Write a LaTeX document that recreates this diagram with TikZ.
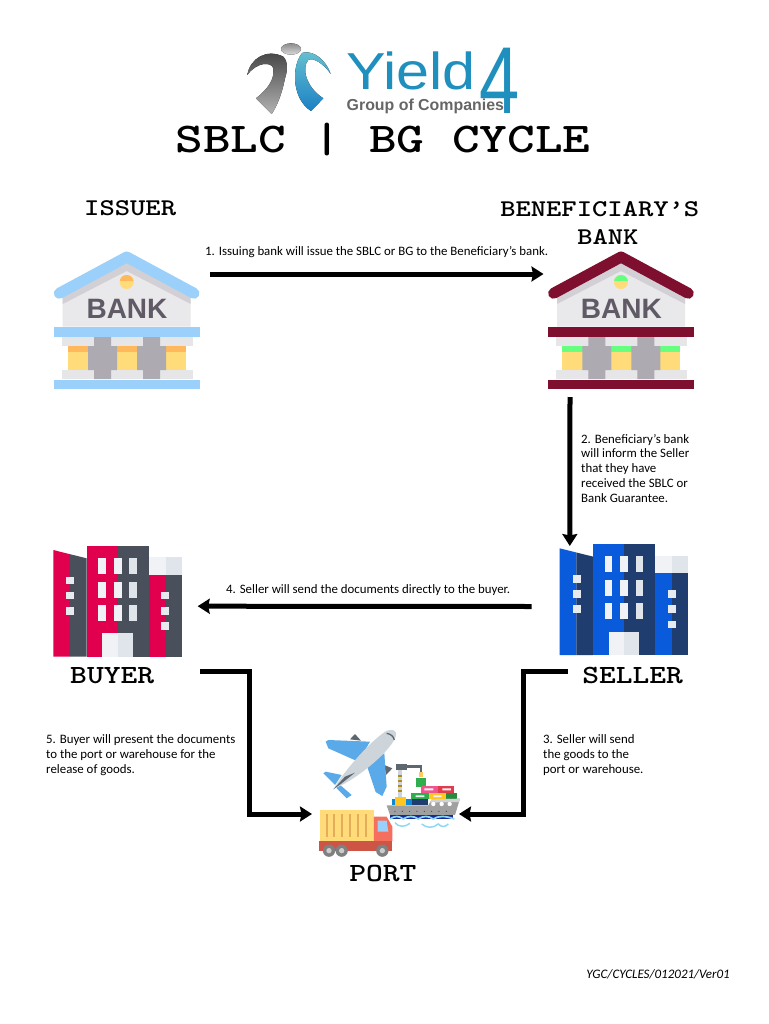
\documentclass[tikz,border=0pt]{standalone}
\usepackage{fontspec}
\setmainfont{Carlito}
\newfontfamily\arialf{Liberation Sans}
\usetikzlibrary{arrows.meta}
\definecolor{wallc}{HTML}{E9E8EB}
\definecolor{shadec}{HTML}{D2D0D5}
\definecolor{pillarc}{HTML}{ADAAB1}
\definecolor{shelfc}{HTML}{E6E6E9}
\definecolor{bankink}{HTML}{5F5A65}
\definecolor{yellowc}{HTML}{FFDB7A}
\definecolor{orangec}{HTML}{FFB85C}
\definecolor{lightblue}{HTML}{9BD0FB}
\definecolor{maroon}{HTML}{7F0F2E}
\definecolor{greenc}{HTML}{66FF80}
\definecolor{redb}{HTML}{E0004D}
\definecolor{darkb}{HTML}{4A4F5C}
\definecolor{blueb}{HTML}{0A5BDC}
\definecolor{navyb}{HTML}{1F3D6E}
\definecolor{wina}{HTML}{F1F2F5}
\definecolor{winb}{HTML}{E0E4EB}
\definecolor{logob}{HTML}{1F8FBE}
\definecolor{logog}{HTML}{666666}
\definecolor{planeb}{HTML}{5AA9E8}
\definecolor{planeg}{HTML}{CDD5DB}
\definecolor{planed}{HTML}{5E666E}
\definecolor{cabc}{HTML}{F46F5E}
\definecolor{chassisc}{HTML}{CE5445}
\definecolor{cgreen}{HTML}{2FAE4E}
\definecolor{cred}{HTML}{E23B4E}
\definecolor{cpink}{HTML}{F0548F}
\definecolor{cyel}{HTML}{FFC720}
\definecolor{hullc}{HTML}{A0A0A0}
\definecolor{wavec}{HTML}{8FD8F5}
\newcommand{\slabfont}[2]{\ttfamily\bfseries\fontsize{#1}{#2}\selectfont\addfontfeature{FakeBold=1}}
\tikzset{
  flow/.style={draw=black,line width=5pt,-{Stealth[length=12pt,width=15pt,inset=1.5pt]},line join=miter},
  icon/.style={inset sep,minimum width=#1},
  inset sep/.style={inner sep=0pt,outer sep=0pt},
  hd/.style={font=\slabfont{24}{28},xscale=1.215,inner sep=0pt,anchor=base west,align=left},
  hdb/.style={font=\slabfont{26.2}{30},xscale=1.22,inner sep=0pt,anchor=base west},
  note/.style={font=\fontsize{12.85}{14.7}\selectfont,inner sep=0pt,anchor=north west,align=left},
}
\newcommand{\bankicon}[5]{% dx, dy, roof, col top, bulb top
\begin{scope}[shift={(#1,#2)}]
 \fill[wallc] (62.7,326.7)--(62.7,298)--(126.7,264)--(190.7,298)--(190.7,326.7)--cycle;
 \fill[shadec] (62.7,296)--(126.7,262)--(190.7,296)--(190.7,304)--(126.7,271)--(62.7,304)--cycle;
 \draw[#3,line width=11pt,line cap=round,line join=round] (59.3,293.3)--(126.7,257)--(194,293.3);
 \begin{scope}
  \clip (126.7,282) circle (7);
  \fill[yellowc] (119,274) rectangle (135,290);
  \fill[#5] (119,274) rectangle (135,281);
 \end{scope}
 \node[text=bankink,font=\arialf\bfseries\fontsize{28}{30}\selectfont,inner sep=0pt,anchor=base] at (127,318) {BANK};
 \fill[shelfc] (62,337) rectangle (193,346);
 \fill[yellowc] (68,346) rectangle (186,370);
 \fill[#4] (68,346) rectangle (186,352);
 \fill[shelfc] (62,370) rectangle (193,379);
 \fill[pillarc] (88,346) rectangle (117,370) (94,337) rectangle (111,379);
 \fill[pillarc] (137,346) rectangle (166,370) (143,337) rectangle (160,379);
 \fill[#3] (53.5,326.7) rectangle (200,337);
 \fill[#3] (53.5,379.5) rectangle (200,389);
\end{scope}}
\newcommand{\officeicon}[4]{% dx, dy, light, dark
\begin{scope}[shift={(#1,#2)}]
 \fill[#3] (53.3,550)--(70,554.2)--(70,656.7)--(53.3,656.7)--cycle;
 \fill[#4] (70,554.2)--(86.7,558.3)--(86.7,656.7)--(70,656.7)--cycle;
 \fill[#3] (86.7,545.7) rectangle (117.7,656.7);
 \fill[#4] (117.7,545.7) rectangle (148.7,656.7);
 \fill[wina] (148.7,557.3) rectangle (165.7,575);
 \fill[winb] (165.7,557.3) rectangle (181.7,575);
 \fill[#3] (148.7,575) rectangle (165.7,656.7);
 \fill[#4] (165.7,575) rectangle (181.7,656.7);
 \fill[wina] (102.3,633.3) rectangle (117.7,656.7);
 \fill[winb] (117.7,633.3) rectangle (132.7,656.7);
 \foreach \wy in {558,581.7,605}{
  \fill[wina] (98.3,\wy) rectangle +(7.7,16);
  \fill[wina] (114,\wy) rectangle +(7.7,16);
  \fill[winb] (129.3,\wy) rectangle +(7.7,16);
 }
 \foreach \wy in {576.7,591.7,607}{\fill[winb!60!wina] (66.3,\wy) rectangle +(8,7.7);}
 \foreach \wy in {591.7,607,622.3}{\fill[winb!60!wina] (161.3,\wy) rectangle +(8,7.7);}
\end{scope}}
\begin{document}
\begin{tikzpicture}[x=1pt,y=-1pt]
\useasboundingbox (0,0) rectangle (768,1024);
\fill[white] (0,0) rectangle (768,1024);
% logo
\begin{scope}[shift={(230,30)},x=0.3333pt,y=-0.3333pt]
 \fill[top color=gray!90,bottom color=gray!30] (183,57) ellipse (30 and 17);
 \fill[top color=black!75,bottom color=black!30]
   (52,135) .. controls (60,85) and (110,55) .. (160,80) .. controls (175,95) and (172,125) .. (165,145)
   .. controls (155,195) and (140,230) .. (125,252) -- (78,205) .. controls (110,180) and (135,150) .. (130,115)
   .. controls (125,95) and (80,95) .. (52,135) -- cycle;
 \fill[top color=logob!60!cyan!60!white!90!black,bottom color=logob!90!blue]
   (218,68) .. controls (255,60) and (290,95) .. (302,132) .. controls (285,105) and (250,80) .. (235,90)
   .. controls (215,110) and (225,170) .. (280,205) -- (243,243) .. controls (215,225) and (195,190) .. (195,140)
   .. controls (195,110) and (205,80) .. (218,68) -- cycle;
\end{scope}
\node (yieldtxt) [text=logob,font=\arialf\fontsize{52}{56}\selectfont,xscale=1.14,inner sep=0pt,anchor=base west] at (346,90) {Yield};
\node (four) [text=logob,font=\arialf\fontsize{95}{96}\selectfont,xscale=0.76,inner sep=0pt,anchor=base west] at (479,113.5) {4};
\node (group) [text=logog,font=\arialf\bfseries\fontsize{15.9}{16}\selectfont,inner sep=0pt,anchor=base west] at (346.5,110.5) {Group of Companies};
% title
\node (title) [font=\slabfont{42.5}{46},xscale=1.24,inner sep=0pt,anchor=base] at (383,153) {SBLC | BG CYCLE};
\node (issuerh) [hd] at (84,216) {ISSUER};
\node (benefh) [hd] at (500,244) {BENEFICIARY’S\\\hspace*{63.4pt}BANK};
% icons
\bankicon{0}{0}{lightblue}{orangec}{orangec}
\bankicon{494.3}{0}{maroon}{greenc}{greenc}
\officeicon{0}{0}{redb}{darkb}
\officeicon{506.3}{-1.7}{blueb}{navyb}
\node (issuerbank) [icon=147pt,minimum height=138pt] at (126.7,320) {};
\node (benefbank) [icon=147pt,minimum height=138pt] at (621,320) {};
\node (buyericon) [icon=128.4pt,minimum height=111pt] at (117.5,601.2) {};
\node (sellericon) [icon=128.4pt,minimum height=111pt] at (623.8,599.5) {};
% port
\begin{scope}[shift={(305,720)},x=0.3333pt,y=-0.3333pt]
 % plane
 \fill[planed] (135,58)--(150,42)--(168,62)--cycle;
 \fill[planed] (238,135)--(262,145)--(243,165)--cycle;
 \fill[planeb,line join=round] (62,65)--(70,60)--(195,65)--(160,125)--(70,85)--cycle;
 \fill[planeb] (238,100)--(245,200)--(232,228)--(212,216)--(185,135)--cycle;
 \fill[planeb] (55,160)--(62,155)--(110,165)--(90,195)--cycle;
 \fill[planeb] (100,190)--(140,225)--(125,235)--(95,205)--cycle;
 \fill[planeg] (85,208) .. controls (120,150) and (190,70) .. (240,35) .. controls (260,25) and (278,28) .. (272,50)
   .. controls (260,85) and (190,150) .. (120,190) -- cycle;
 \fill[planed] (85,208)--(120,170)--(150,158)--(110,190)--cycle;
 \draw[planed,line width=1.3pt] (245,40) .. controls (258,42) and (266,50) .. (268,60);
 % ship
 \fill[planed] (272,133) rectangle (305,150);
 \fill[planed] (300,135) rectangle (352,143);
 \fill[planeg] (280,150) rectangle (292,235);
 \foreach \sy in {165,180,195,210}{\fill[cyel!70!black] (280,\sy) rectangle (292,\sy+7);}
 \fill[planed] (345,143) rectangle (350,155);
 \fill[yellowc!80!orange] (341,155) rectangle (355,172);
 \fill[cgreen] (333,175) rectangle (362,202);
 \fill[cpink] (347,197) rectangle (400,220);
 \fill[cred] (400,197) rectangle (448,220);
 \fill[wina] (358,205) rectangle (385,211) (412,205) rectangle (438,211);
 \fill[cgreen] (318,220) rectangle (372,238);
 \fill[cyel] (372,220) rectangle (422,238);
 \fill[cgreen!80!black] (422,220) rectangle (457,238);
 \fill[wina] (332,226) rectangle (358,231) (385,226) rectangle (410,231);
 \fill[navyb] (320,238) rectangle (370,255);
 \fill[cyan!70!blue] (262,238) rectangle (320,255);
 \fill[cyel] (270,232) rectangle (303,255);
 \fill[hullc] (245,256)--(370,256)--(380,238)--(465,236)--(450,285)--(255,285)--cycle;
 \fill[gray!35] (380,238)--(465,236)--(462,246)--(375,248)--cycle;
 \foreach \px in {385,410,434}{\fill[white] (\px,252) circle (6.5);}
 \foreach \px in {270,292,314,336,358,380,402,424}{\fill[darkb] (\px,274) circle (2);}
 \fill[navyb!70!blue] (255,285) rectangle (445,297);
 \draw[wavec,line width=1.7pt] (255,297) .. controls (270,287) and (280,287) .. (295,297) .. controls (310,287) and (325,287) .. (340,297) .. controls (355,287) and (370,287) .. (385,297) .. controls (400,287) and (420,287) .. (448,297);
 \draw[wavec,line width=1.5pt] (270,308) .. controls (280,322) and (300,322) .. (315,310);
 \draw[wavec,line width=1.5pt] (350,312) .. controls (365,325) and (385,325) .. (400,312) .. controls (410,322) and (420,322) .. (430,312);
 % truck
 \fill[yellowc] (45,270) rectangle (207,363);
 \foreach \tx in {65,88,112,135,160,183}{\fill[orangec!75!yellowc!90!black] (\tx-3,283) rectangle (\tx+3,350);}
 \fill[cabc] (207,290)--(245,290)--(262,320)--(262,363)--(207,363)--cycle;
 \fill[lightblue] (218,302)--(245,302)--(250,335)--(218,335)--cycle;
 \fill[chassisc] (42,363) rectangle (262,392);
 \foreach \wx in {72,110,232}{
  \fill[gray] (\wx,392) circle (18.5);
  \fill[gray!40] (\wx,392) circle (8);
 }
\end{scope}
\node (porticon) [icon=140pt,minimum height=130pt] at (390,793) {};
% labels
\node (buyerl) [hdb] at (70,683) {BUYER};
\node (sellerl) [hdb] at (582,683) {SELLER};
\node (portl) [hdb] at (349,881) {PORT};
\node (n1) [note] at (205,246) {1. Issuing bank will issue the SBLC or BG to the Beneficiary’s bank.};
\node (n2) [note] at (581,434) {2. Beneficiary’s bank\\will inform the Seller\\that they have\\received the SBLC or\\Bank Guarantee.};
\node (n3) [note] at (543,734.5) {3. Seller will send\\the goods to the\\port or warehouse.};
\node (n4) [note] at (226,584.5) {4. Seller will send the documents directly to the buyer.};
\node (n5) [note] at (46,734.5) {5. Buyer will present the documents\\to the port or warehouse for the\\release of goods.};
\node (foot) [font=\itshape\fontsize{13}{14}\selectfont,inner sep=0pt,anchor=base east] at (730,978) {YGC/CYCLES/012021/Ver01};
% connectors
\draw[flow] ([shift={(10pt,46pt)}]issuerbank.east) -- ([shift={(-4pt,46pt)}]benefbank.west);
\draw[flow] ([shift={(-51pt,-8pt)}]benefbank.south) -- ([shift={(-54pt,-2pt)}]sellericon.north);
\draw[flow] ([shift={(-28pt,-7pt)}]sellericon.west) -- ([shift={(16pt,-5pt)}]buyericon.east);
\draw[flow] ([shift={(-14pt,3.5pt)}]sellerl.west) -| ([shift={(63pt,-21pt)}]porticon.east) -- ([shift={(-1pt,-21pt)}]porticon.east);
\draw[flow] ([shift={(46pt,3.5pt)}]buyerl.east) -| ([shift={(-71pt,-21pt)}]porticon.west) -- ([shift={(-8pt,-21pt)}]porticon.west);
\end{tikzpicture}
\end{document}
